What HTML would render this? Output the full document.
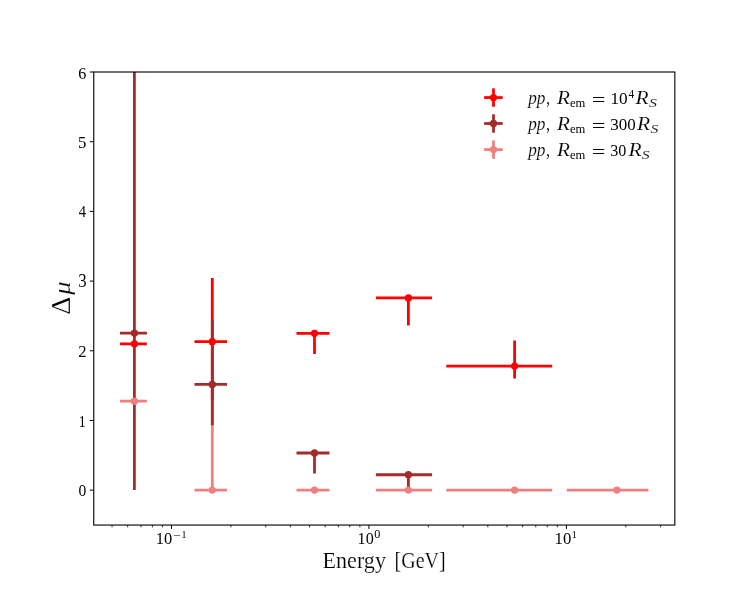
<!DOCTYPE html>
<html lang="en"><head><meta charset="utf-8"><title>Delta mu vs Energy</title>
<style>html,body{margin:0;padding:0;background:#fff;}body{width:750px;height:600px;overflow:hidden;}svg{display:block;}text{font-family:"Liberation Serif","DejaVu Serif",serif;fill:#000;}.th{stroke:#fff;stroke-width:0.008em;paint-order:fill stroke;}.it{font-style:italic;}</style></head><body>
<svg width="750" height="600" viewBox="0 0 750 600">
<rect width="750" height="600" fill="#fff"/>
<defs><clipPath id="ax"><rect x="93.75" y="72.0" width="581.1" height="453.04999999999995"/></clipPath></defs>
<g clip-path="url(#ax)" fill="none">
<g stroke="#f08080" stroke-width="2.78">
<line x1="120.0" y1="401.2" x2="146.9" y2="401.2"/>
<line x1="194.5" y1="490.1" x2="227.0" y2="490.1"/>
<line x1="212.3" y1="380.0" x2="212.3" y2="490.1"/>
<line x1="296.5" y1="490.1" x2="329.5" y2="490.1"/>
<line x1="375.9" y1="490.1" x2="432.1" y2="490.1"/>
<line x1="446.3" y1="490.1" x2="552.2" y2="490.1"/>
<line x1="566.8" y1="490.1" x2="648.4" y2="490.1"/>
</g>
<g stroke="#ff0000" stroke-width="2.78">
<line x1="120.0" y1="343.8" x2="146.9" y2="343.8"/>
<line x1="194.5" y1="341.7" x2="227.0" y2="341.7"/>
<line x1="212.3" y1="278.0" x2="212.3" y2="400.0"/>
<line x1="296.5" y1="333.3" x2="329.5" y2="333.3"/>
<line x1="314.5" y1="333.3" x2="314.5" y2="354.0"/>
<line x1="375.9" y1="297.9" x2="432.1" y2="297.9"/>
<line x1="408.4" y1="297.9" x2="408.4" y2="325.5"/>
<line x1="446.3" y1="366.1" x2="552.2" y2="366.1"/>
<line x1="514.6" y1="340.5" x2="514.6" y2="378.4"/>
</g>
<g stroke="#a52a2a" stroke-width="2.78">
<line x1="120.0" y1="333.1" x2="146.9" y2="333.1"/>
<line x1="134.4" y1="20.0" x2="134.4" y2="490.1"/>
<line x1="194.5" y1="384.4" x2="227.0" y2="384.4"/>
<line x1="212.3" y1="320.3" x2="212.3" y2="425.3"/>
<line x1="296.5" y1="453.0" x2="329.5" y2="453.0"/>
<line x1="314.5" y1="453.0" x2="314.5" y2="473.5"/>
<line x1="375.9" y1="474.75" x2="432.1" y2="474.75"/>
<line x1="408.4" y1="474.75" x2="408.4" y2="490.1"/>
</g>
<g fill="#ff0000" stroke="none">
<circle cx="134.4" cy="343.8" r="3.65"/>
<circle cx="212.3" cy="341.7" r="3.65"/>
<circle cx="314.5" cy="333.3" r="3.65"/>
<circle cx="408.4" cy="297.9" r="3.65"/>
<circle cx="514.6" cy="366.1" r="3.65"/>
</g>
<g fill="#a52a2a" stroke="none">
<circle cx="134.4" cy="333.1" r="3.65"/>
<circle cx="212.3" cy="384.4" r="3.65"/>
<circle cx="314.5" cy="453.0" r="3.65"/>
<circle cx="408.4" cy="474.75" r="3.65"/>
</g>
<g fill="#f08080" stroke="none">
<circle cx="134.4" cy="401.2" r="3.65"/>
<circle cx="212.3" cy="490.1" r="3.65"/>
<circle cx="314.5" cy="490.1" r="3.65"/>
<circle cx="408.4" cy="490.1" r="3.65"/>
<circle cx="514.6" cy="490.1" r="3.65"/>
<circle cx="616.9" cy="490.1" r="3.65"/>
</g>
</g>
<rect x="93.75" y="72.0" width="581.1" height="453.04999999999995" fill="none" stroke="#000" stroke-width="1.11"/>
<g stroke="#000" stroke-width="1.0">
<line x1="171.50" y1="525.05" x2="171.50" y2="528.9499999999999"/>
<line x1="368.95" y1="525.05" x2="368.95" y2="528.9499999999999"/>
<line x1="566.40" y1="525.05" x2="566.40" y2="528.9499999999999"/>
<line x1="112.06" y1="525.05" x2="112.06" y2="527.3499999999999" stroke-width="0.8"/>
<line x1="127.70" y1="525.05" x2="127.70" y2="527.3499999999999" stroke-width="0.8"/>
<line x1="140.91" y1="525.05" x2="140.91" y2="527.3499999999999" stroke-width="0.8"/>
<line x1="152.37" y1="525.05" x2="152.37" y2="527.3499999999999" stroke-width="0.8"/>
<line x1="162.47" y1="525.05" x2="162.47" y2="527.3499999999999" stroke-width="0.8"/>
<line x1="230.94" y1="525.05" x2="230.94" y2="527.3499999999999" stroke-width="0.8"/>
<line x1="265.71" y1="525.05" x2="265.71" y2="527.3499999999999" stroke-width="0.8"/>
<line x1="290.38" y1="525.05" x2="290.38" y2="527.3499999999999" stroke-width="0.8"/>
<line x1="309.51" y1="525.05" x2="309.51" y2="527.3499999999999" stroke-width="0.8"/>
<line x1="325.15" y1="525.05" x2="325.15" y2="527.3499999999999" stroke-width="0.8"/>
<line x1="338.36" y1="525.05" x2="338.36" y2="527.3499999999999" stroke-width="0.8"/>
<line x1="349.82" y1="525.05" x2="349.82" y2="527.3499999999999" stroke-width="0.8"/>
<line x1="359.92" y1="525.05" x2="359.92" y2="527.3499999999999" stroke-width="0.8"/>
<line x1="428.39" y1="525.05" x2="428.39" y2="527.3499999999999" stroke-width="0.8"/>
<line x1="463.16" y1="525.05" x2="463.16" y2="527.3499999999999" stroke-width="0.8"/>
<line x1="487.83" y1="525.05" x2="487.83" y2="527.3499999999999" stroke-width="0.8"/>
<line x1="506.96" y1="525.05" x2="506.96" y2="527.3499999999999" stroke-width="0.8"/>
<line x1="522.60" y1="525.05" x2="522.60" y2="527.3499999999999" stroke-width="0.8"/>
<line x1="535.81" y1="525.05" x2="535.81" y2="527.3499999999999" stroke-width="0.8"/>
<line x1="547.27" y1="525.05" x2="547.27" y2="527.3499999999999" stroke-width="0.8"/>
<line x1="557.37" y1="525.05" x2="557.37" y2="527.3499999999999" stroke-width="0.8"/>
<line x1="625.84" y1="525.05" x2="625.84" y2="527.3499999999999" stroke-width="0.8"/>
<line x1="660.61" y1="525.05" x2="660.61" y2="527.3499999999999" stroke-width="0.8"/>
<line x1="93.75" y1="490.15" x2="89.85" y2="490.15"/>
<line x1="93.75" y1="420.46" x2="89.85" y2="420.46"/>
<line x1="93.75" y1="350.77" x2="89.85" y2="350.77"/>
<line x1="93.75" y1="281.08" x2="89.85" y2="281.08"/>
<line x1="93.75" y1="211.39" x2="89.85" y2="211.39"/>
<line x1="93.75" y1="141.70" x2="89.85" y2="141.70"/>
<line x1="93.75" y1="72.01" x2="89.85" y2="72.01"/>
</g>
<text font-size="16" transform="translate(78.61,496.43) scale(0.9714,1.0818)">0</text>
<text font-size="16" transform="translate(78.79,426.80) scale(0.8727,1.0762)">1</text>
<text font-size="16" transform="translate(78.32,356.80) scale(1.0462,1.0952)">2</text>
<text font-size="16" transform="translate(78.32,287.02) scale(1.0462,1.1163)">3</text>
<text font-size="16" transform="translate(78.87,216.80) scale(0.9067,1.0286)">4</text>
<text font-size="16" transform="translate(78.05,147.83) scale(1.0462,1.0977)">5</text>
<text font-size="16" transform="translate(78.34,78.63) scale(1.0074,1.0977)">6</text>
<text font-size="16" transform="translate(155.76,544.34) scale(1.0286,1.0364)">10</text>
<text font-size="11" transform="translate(172.68,538.50) scale(1.2381,1.0000)">−</text>
<text font-size="11" transform="translate(181.39,537.70) scale(0.9067,1.0069)">1</text>
<text font-size="16" transform="translate(357.59,544.34) scale(1.0071,1.0364)">10</text>
<text font-size="11" transform="translate(374.24,538.40) scale(1.1111,1.1448)">0</text>
<text font-size="16" transform="translate(554.54,544.34) scale(1.0429,1.0364)">10</text>
<text font-size="11" transform="translate(571.69,537.60) scale(0.9067,1.0345)">1</text>
<text class="th" font-size="22.5" transform="translate(322.56,568.40) scale(0.9820,1.0102)">Energy</text>
<text class="th" font-size="22.5" transform="translate(394.54,568.40) scale(0.8889,1.0032)">[GeV]</text>
<text class="it th" font-size="18" transform="translate(528.16,103.80) scale(0.9622,1.0000)">pp</text>
<text font-size="18" transform="translate(546.20,103.80) scale(0.8000,1.0000)">,</text>
<text class="it th" font-size="18" transform="translate(557.10,103.80) scale(1.1721,1.0213)">R</text>
<text font-size="12" transform="translate(569.98,106.90) scale(1.0500,1.0000)">em</text>
<text font-size="18" transform="translate(591.65,105.90) scale(1.3455,1.0667)">=</text>
<text font-size="17.5" transform="translate(610.52,103.80) scale(0.9836,0.9872)">10</text>
<text font-size="12" transform="translate(628.46,97.90) scale(0.9455,1.0500)">4</text>
<text class="it th" font-size="18" transform="translate(635.60,103.80) scale(1.1907,1.0213)">R</text>
<text class="it th" font-size="12.5" transform="translate(648.88,106.90) scale(1.2696,1.0545)">S</text>
<text class="it th" font-size="18" transform="translate(528.16,129.80) scale(0.9622,1.0000)">pp</text>
<text font-size="18" transform="translate(546.20,129.80) scale(0.8000,1.0000)">,</text>
<text class="it th" font-size="18" transform="translate(557.10,129.80) scale(1.1721,1.0213)">R</text>
<text font-size="12" transform="translate(569.98,132.90) scale(1.0500,1.0000)">em</text>
<text font-size="18" transform="translate(591.65,131.90) scale(1.3455,1.0667)">=</text>
<text font-size="17.5" transform="translate(610.27,129.80) scale(0.9697,0.9872)">300</text>
<text class="it th" font-size="18" transform="translate(637.00,129.80) scale(1.1907,1.0213)">R</text>
<text class="it th" font-size="12.5" transform="translate(650.38,132.90) scale(1.2696,1.0545)">S</text>
<text class="it th" font-size="18" transform="translate(528.16,155.85) scale(0.9622,1.0000)">pp</text>
<text font-size="18" transform="translate(546.20,155.85) scale(0.8000,1.0000)">,</text>
<text class="it th" font-size="18" transform="translate(557.10,155.85) scale(1.1721,1.0213)">R</text>
<text font-size="12" transform="translate(569.98,158.95) scale(1.0500,1.0000)">em</text>
<text font-size="18" transform="translate(591.65,157.95) scale(1.3455,1.0667)">=</text>
<text font-size="17.5" transform="translate(610.31,155.85) scale(0.9188,0.9872)">30</text>
<text class="it th" font-size="18" transform="translate(628.50,155.85) scale(1.1907,1.0213)">R</text>
<text class="it th" font-size="12.5" transform="translate(641.68,158.95) scale(1.2696,1.0545)">S</text>
<text class="th" font-size="25" transform="translate(69.5,313.7) rotate(-90) translate(-1.13,0) scale(1.1298,1.0788)">Δ</text>
<text class="it th" font-size="23" transform="translate(69.5,294.7) rotate(-90) translate(-0.00,0) scale(1.1535,1.0000)">μ</text>
<g stroke="#ff0000" stroke-width="2.78"><line x1="484.1" y1="97.55" x2="502.7" y2="97.55"/><line x1="493.5" y1="88.35" x2="493.5" y2="106.75"/></g><circle cx="493.5" cy="97.55" r="3.65" fill="#ff0000"/>
<g stroke="#a52a2a" stroke-width="2.78"><line x1="484.1" y1="123.5" x2="502.7" y2="123.5"/><line x1="493.5" y1="114.3" x2="493.5" y2="132.7"/></g><circle cx="493.5" cy="123.5" r="3.65" fill="#a52a2a"/>
<g stroke="#f08080" stroke-width="2.78"><line x1="484.1" y1="149.6" x2="502.7" y2="149.6"/><line x1="493.5" y1="140.4" x2="493.5" y2="158.79999999999998"/></g><circle cx="493.5" cy="149.6" r="3.65" fill="#f08080"/>
</svg></body></html>
